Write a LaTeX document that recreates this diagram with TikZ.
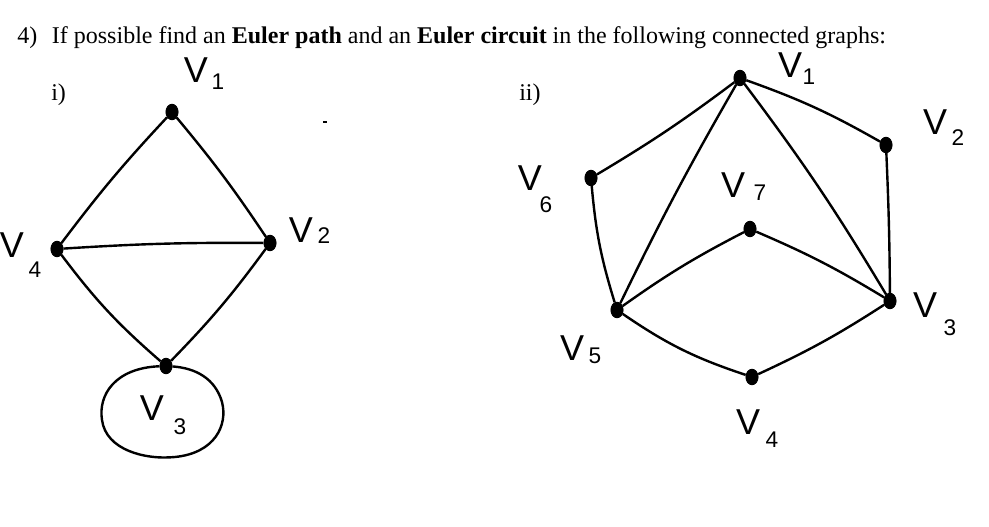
\documentclass[tikz,border=0pt]{standalone}
\usepackage{fontspec}
\setmainfont{Liberation Serif}
\newfontfamily\handfont{Liberation Sans}
\usetikzlibrary{shapes.geometric}
\begin{document}
\begin{tikzpicture}[x=0.75pt,y=-0.75pt,
  vdot/.style={draw,fill=black,ellipse,minimum width=9pt,minimum height=11.5pt,inner sep=0pt,line width=0.8pt},
  edge/.style={line width=1.8pt},
  hdrfont/.style={inner sep=0pt,font=\fontsize{18}{20}\selectfont},
  hlabel/.style={font=\handfont\fontsize{27}{27}\selectfont,inner sep=0pt},
  hsub/.style={font=\handfont\fontsize{17}{17}\selectfont,inner sep=0pt}]
\useasboundingbox (0,0) rectangle (989,527);
\fill[white] (0,0) rectangle (989,527);
\node[anchor=base west,hdrfont] (hdr) at (17,44)
  {4)\hspace{11pt}If possible find an \textbf{Euler path} and an \textbf{Euler circuit} in the following connected graphs:};
% graph i
\node[anchor=base west,hdrfont] (gi) at (51,101) {i)};
\node[vdot] (a1) at (172,112) {};
\node[vdot] (a2) at (270,243) {};
\node[vdot] (a4) at (57,249) {};
\node[vdot] (a3) at (166,366) {};
\draw[edge] (a1) to[bend right=3] (a4);
\draw[edge] (a1) to[bend left=3] (a2);
\draw[edge] (a4) to[bend left=2] (a2);
\draw[edge] (a4) to[bend right=6] (a3);
\draw[edge] (a2) to[bend left=4] (a3);
\draw[edge] (a3) .. controls (115,368) and (98,395) .. (102,420)
  .. controls (106,450) and (145,460) .. (175,457)
  .. controls (215,453) and (228,425) .. (222,402)
  .. controls (215,378) and (195,368) .. (a3);
\node[hlabel] (la1) at (196,70) {V};
\node[hsub] (sa1) at (218,82) {1};
\node[hlabel] (la2) at (301,230) {V};
\node[hsub] (sa2) at (324,236) {2};
\node[hlabel] (la4) at (12,245) {V};
\node[hsub] (sa4) at (35,270) {4};
\node[hlabel] (la3) at (152,408) {V};
\node[hsub] (sa3) at (180,427) {3};
\draw[line width=1.2pt] (323,122) -- (327,122);
% graph ii
\node[anchor=base west,hdrfont] (gii) at (519,101) {ii)};
\node[vdot] (b1) at (740,78) {};
\node[vdot] (b2) at (886,145) {};
\node[vdot] (b6) at (591,178) {};
\node[vdot] (b7) at (750,229) {};
\node[vdot] (b5) at (617,310) {};
\node[vdot] (b3) at (890,301) {};
\node[vdot] (b4) at (752,377) {};
\draw[edge] (b1) to[bend left=3] (b6);
\draw[edge] (b1) to[bend right=2] (b5);
\draw[edge] (b1) to[bend left=3] (b3);
\draw[edge] (b1) to[bend left=5] (b2);
\draw[edge] (b2) to[bend left=1] (b3);
\draw[edge] (b6) to[bend right=6] (b5);
\draw[edge] (b5) to[bend left=4] (b7);
\draw[edge] (b7) to[bend left=4] (b3);
\draw[edge] (b5) to[bend right=8] (b4);
\draw[edge] (b4) to[bend right=4] (b3);
\node[hlabel] (lb1) at (790,65) {V};
\node[hsub] (sb1) at (809,77) {1};
\node[hlabel] (lb2) at (935,122) {V};
\node[hsub] (sb2) at (958,138) {2};
\node[hlabel] (lb6) at (530,178) {V};
\node[hsub] (sb6) at (546,205) {6};
\node[hlabel] (lb7) at (733,185) {V};
\node[hsub] (sb7) at (760,193) {7};
\node[hlabel] (lb5) at (572,348) {V};
\node[hsub] (sb5) at (595,356) {5};
\node[hlabel] (lb3) at (925,305) {V};
\node[hsub] (sb3) at (950,328) {3};
\node[hlabel] (lb4) at (748,422) {V};
\node[hsub] (sb4) at (772,440) {4};
\end{tikzpicture}
\end{document}
